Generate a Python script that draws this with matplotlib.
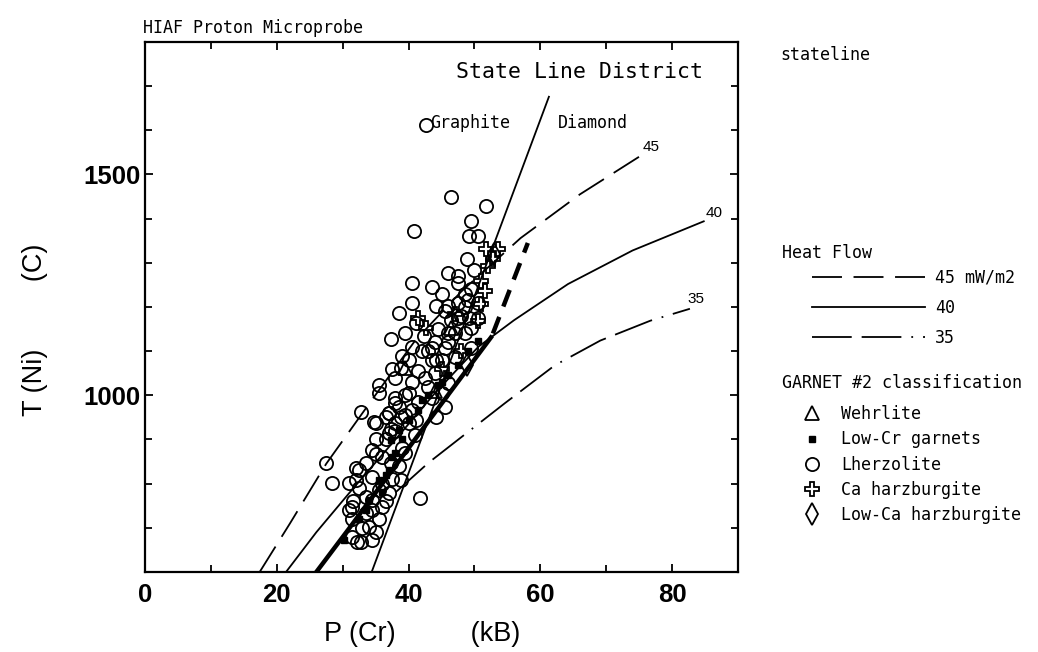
import matplotlib
matplotlib.use("Agg")
import matplotlib.pyplot as plt
from matplotlib.ticker import MultipleLocator

# geotherms, pressure (kB) and temperature (C)
p45 = [17.4, 22, 27.5, 34.4, 41, 48, 57, 66, 75.5]
t45 = [600, 710, 845, 989, 1124, 1235, 1356, 1455, 1545]
p40 = [21.4, 26, 31.4, 38, 44, 50.6, 56, 64.2, 74, 84.8]
t40 = [600, 690, 786, 900, 1005, 1110, 1170, 1252, 1328, 1394]
p35 = [38, 43, 54.6, 62.2, 69.1, 76.7, 82.7]
t35 = [780, 847, 982, 1068, 1124, 1169, 1196]

# graphite / diamond boundary
p_gd = [34.4, 61.3]
t_gd = [600, 1676]

# heavy line through the data
p_heavy = [26.0, 30.9, 42.0, 52.5]
t_heavy = [600, 697, 921, 1131]
p_heavy_dash = [52.8, 58.1]
t_heavy_dash = [1140, 1345]

# garnets
lherz_p = [42.6, 46.5, 51.8, 49.4, 49.1, 50.6, 40.8, 48.8, 46.0, 40.5, 43.5, 47.5, 50.0,
           40.5, 38.5, 44.1, 46.0, 41.1, 39.5, 37.3, 42.3, 43.5, 43.5, 41.5, 38.9, 35.5,
           35.5, 40.0, 43.0, 35.0, 38.0, 40.5, 43.0, 44.1, 47.1, 49.5, 50.6, 49.1, 47.5,
           46.0, 45.6, 48.6, 49.5, 37.0, 38.9, 41.1, 43.5, 45.0, 46.0, 45.6, 44.1, 32.8,
           34.7, 27.5, 28.4, 41.8, 31.4, 31.4, 32.2, 34.4, 38.5, 37.4, 36.5, 34.4, 32.5,
           32.0, 34.4, 37.4, 39.5, 35.5, 34.4, 37.0, 38.9, 33.5, 35.9, 34.0, 31.4, 30.9,
           33.5, 32.0, 38.0, 40.0, 37.0, 35.0, 30.9, 32.8,
           31.5, 32.5, 33.5, 34.5, 35.5, 36.5, 33.0, 35.0, 36.0, 37.5, 38.5, 39.0, 36.0,
           35.0, 37.0, 38.0, 39.5, 40.5, 41.5, 42.5, 44.0, 45.0, 46.0, 44.5, 46.5, 47.5,
           48.5, 49.5, 48.0, 50.5, 42.0, 40.0, 36.5, 38.0, 39.5, 41.0,
           38.0, 39.0, 37.5, 40.5, 44.0, 47.0, 45.5, 48.5, 45.0, 47.5, 49.0]
lherz_t = [1613, 1450, 1428, 1394, 1360, 1360, 1372, 1309, 1277, 1254, 1245, 1254, 1284,
           1209, 1187, 1203, 1203, 1164, 1140, 1128, 1135, 1108, 1079, 1056, 1063, 1023,
           1005, 1005, 1018, 937, 982, 966, 1101, 1079, 1086, 1108, 1176, 1176, 1176,
           1140, 1108, 1140, 1153, 959, 950, 944, 995, 1005, 1027, 973, 950, 962,
           939, 847, 802, 768, 748, 719, 667, 673, 973, 923, 900, 876, 831,
           809, 815, 847, 869, 786, 764, 779, 809, 734, 748, 703, 680, 802,
           847, 836, 937, 937, 914, 867, 741, 669,
           760, 790, 770, 740, 720, 760, 700, 690, 800, 810, 840, 880, 860,
           900, 960, 995, 1000, 1030, 985, 1040, 1050, 1080, 1120, 1150, 1170, 1210,
           1230, 1240, 1180, 1210, 1100, 1080, 950, 920, 955, 910,
           1040, 1090, 1060, 1110, 1120, 1140, 1190, 1200, 1230, 1270, 1215]
caharz_p = [41.5, 42.6, 51.0, 51.6, 50.6, 47.1, 51.8, 53.6, 52.1, 51.0, 52.8, 48.0, 45.0]
caharz_t = [1176, 1153, 1207, 1236, 1169, 1185, 1331, 1331, 1293, 1259, 1309, 1100, 1060]
wehr_p = [46.5, 39.5, 44.0]
wehr_t = [1153, 1063, 1010]
lowca_p = [48.8, 53.0]
lowca_t = [1068, 1320]
lowcr_p = [30.2, 32.5, 34.0, 35.5, 37.0, 37.3, 38.5, 40.0, 41.5, 43.0, 44.5, 46.0, 47.5,
           49.0, 50.6, 36.0, 37.5, 39.0, 33.5, 42.0, 45.0, 36.5, 38.0]
lowcr_t = [673, 719, 764, 809, 831, 899, 921, 944, 966, 1000, 1023, 1045, 1068,
           1101, 1124, 780, 860, 900, 740, 990, 1030, 820, 870]

mono = "DejaVu Sans Mono"
sans = "Liberation Sans"
fs = 12

fig = plt.figure(figsize=(10.38, 6.52), dpi=100)
ax = fig.add_axes([0.1397, 0.1227, 0.5713, 0.8129])

l45, = ax.plot(p45, t45, color="black", lw=1.3, dashes=(16.6, 6.4))
l40, = ax.plot(p40, t40, color="black", lw=1.3)
l35, = ax.plot(p35, t35, color="black", lw=1.3, dashes=(22, 5.5, 22, 5.5, 1, 5.5))
ax.plot(p_gd, t_gd, color="black", lw=1.3)
ax.plot(p_heavy, t_heavy, color="black", lw=3.2)
ax.plot(p_heavy_dash, t_heavy_dash, color="black", lw=3.2, dashes=(4, 2.5))

mk = dict(linestyle="none", color="black", mfc="none", mew=1.3)
h_lherz, = ax.plot(lherz_p, lherz_t, marker="o", ms=9.5, **mk)
h_caharz, = ax.plot(caharz_p, caharz_t, marker="P", ms=10, **mk)
h_wehr, = ax.plot(wehr_p, wehr_t, marker="^", ms=10, **mk)
h_lowca, = ax.plot(lowca_p, lowca_t, marker="d", ms=11, **mk)
h_lowcr, = ax.plot(lowcr_p, lowcr_t, marker="s", ms=4.5, linestyle="none", color="black")

ax.set_xlim(0, 90)
ax.set_ylim(600, 1800)
ax.xaxis.set_major_locator(MultipleLocator(20))
ax.xaxis.set_minor_locator(MultipleLocator(10))
ax.set_yticks([1000, 1500])
ax.yaxis.set_minor_locator(MultipleLocator(100))
ax.tick_params(which="both", direction="in", top=True, right=True, width=1.3)
ax.tick_params(which="major", length=6)
ax.tick_params(which="minor", length=5)
ax.tick_params(axis="x", pad=8)
for lab in ax.get_xticklabels() + ax.get_yticklabels():
    lab.set_fontfamily(sans)
    lab.set_fontsize(18.5)
    lab.set_fontweight("bold")
for s in ax.spines.values():
    s.set_linewidth(1.6)

ax.set_xlabel("P (Cr)          (kB)", fontfamily=sans, fontsize=19.5)
ax.xaxis.set_label_coords(0.467, -0.092)
ax.set_ylabel("T (Ni)         (C)", fontfamily=sans, fontsize=19.5)
ax.yaxis.set_label_coords(-0.163, 0.457)

ax.text(47.2, 1732, "State Line District", fontfamily=mono, fontsize=15.5, va="center")
ax.text(43.3, 1617, "Graphite", fontfamily=mono, fontsize=fs, va="center")
ax.text(62.6, 1617, "Diamond", fontfamily=mono, fontsize=fs, va="center")
ax.text(75.5, 1563, "45", fontfamily=sans, fontsize=11, va="center")
ax.text(85.1, 1412, "40", fontfamily=sans, fontsize=11, va="center")
ax.text(82.3, 1218, "35", fontfamily=sans, fontsize=11, va="center")

fig.text(143 / 1038, 1 - 28 / 652, "HIAF Proton Microprobe", fontfamily=mono, fontsize=fs, va="center")
fig.text(780 / 1038, 1 - 55 / 652, "stateline", fontfamily=mono, fontsize=fs, va="center")
fig.text(782 / 1038, 1 - 253 / 652, "Heat Flow", fontfamily=mono, fontsize=fs, va="center")
fig.text(782 / 1038, 1 - 383 / 652, "GARNET #2 classification", fontfamily=mono, fontsize=fs, va="center")

leg1 = fig.legend([l45, l40, l35], ["45 mW/m2", "40", "35"], loc="upper left",
                  bbox_to_anchor=(812 / 1038, 1 - 269 / 652), frameon=False,
                  borderpad=0, borderaxespad=0, handlelength=6.8, handletextpad=0.6,
                  labelspacing=0.72, prop={"family": mono, "size": fs})
leg2 = fig.legend([h_wehr, h_lowcr, h_lherz, h_caharz, h_lowca],
                  ["Wehrlite", "Low-Cr garnets", "Lherzolite", "Ca harzburgite", "Low-Ca harzburgite"],
                  loc="upper left", bbox_to_anchor=(801 / 1038, 1 - 405 / 652), frameon=False,
                  borderpad=0, borderaxespad=0, handlelength=1.3, handletextpad=1.1,
                  labelspacing=0.44, prop={"family": mono, "size": fs})

fig.savefig("out.png", dpi=100, facecolor="white")
